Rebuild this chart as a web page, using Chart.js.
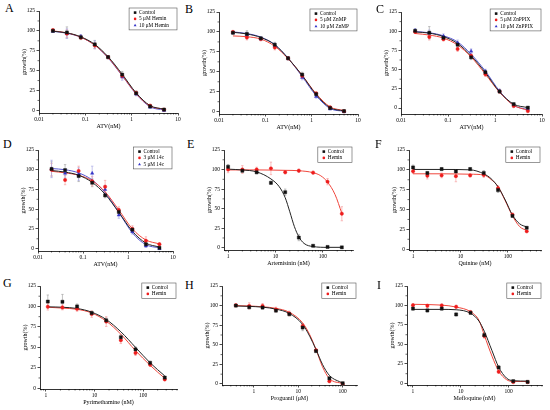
<!DOCTYPE html>
<html>
<head>
<meta charset="utf-8">
<script src="https://cdn.jsdelivr.net/npm/chart.js@4.4.1/dist/chart.umd.min.js"></script>
<style>
  body { margin: 0; background: #fff; width: 550px; height: 410px; overflow: hidden; position: relative; font-family: "Liberation Serif", serif; }
  canvas { position: absolute; }
  .lbl { position: absolute; font-size: 12px; line-height: 12px; color: #000; }
</style>
</head>
<body>
<script>
// ---- data ----
const yTicks = [0, 25, 50, 75, 100, 125];
const atvTicks = [0.01, 0.1, 1, 10];
const drugTicks = [1, 10, 100];

// A-D: atovaquone dose series
const doseATV = [0.02, 0.04, 0.08, 0.16, 0.31, 0.625, 1.25, 2.5, 5];

const ctrlA   = [100, 98, 92, 83, 67, 45, 21.5, 5, 1];
const hem5A   = [101, 96.5, 91.5, 81.5, 67, 43.5, 22, 6, 1];
const hem10A  = [99.5, 96.5, 93, 82.5, 67, 42, 20.5, 4, 0];
const errCtrlA  = [2, 7, 3, 5, 2, 4, 3, 2, 1];
const errHem5A  = [2, 5, 2, 4, 2, 3, 2, 1, 1];
const errHem10A = [1, 6, 2, 5, 2, 4, 2, 1, 1];
const fitCtrlA  = [99.5, 97.5, 92.5, 83, 67.5, 45.5, 22, 6, 1.5];
const fitHem5A  = [100, 97.5, 92, 82, 66.5, 44, 21, 5.5, 1.5];
const fitHem10A = [99.5, 97, 92, 82, 66, 43.5, 20.5, 4.5, 0.5];

const ctrlB   = [99, 97.5, 92, 84, 67, 46.5, 22, 4.6, 0.8];
const znmp5B  = [100, 93, 91, 80.5, 67, 45, 23, 5.5, 0.5];
const znmp10B = [99, 96.5, 91.5, 83, 67, 43, 19, 3.4, 0];
const errCtrlB   = [2, 4, 2, 3, 2, 3, 2, 1, 1];
const errZnmp5B  = [1, 3, 2, 3, 2, 3, 2, 1, 1];
const errZnmp10B = [1, 3, 2, 3, 2, 3, 2, 1, 1];
const fitCtrlB   = [99.5, 97.5, 93, 84, 67, 45.5, 21.5, 5, 1];
const fitZnmp5B  = [95, 94, 91, 82, 66.5, 45.5, 22.5, 6, 1.5];
const fitZnmp10B = [100, 98, 93.5, 84, 67, 44, 20, 4, 0.5];

const ctrlC    = [100.5, 98, 91.5, 82.5, 66, 46.5, 21.5, 5, 0.5];
const zppix5C  = [99, 92.5, 89.5, 76.8, 68, 44, 21.5, 2.5, -4];
const zppix10C = [101, 97.5, 93.5, 84.5, 74, 47.5, 22.5, 4, -1.5];
const errCtrlC    = [2, 8, 3, 4, 3, 3, 2, 2, 1];
const errZppix5C  = [2, 4, 2, 3, 3, 3, 2, 1, 1];
const errZppix10C = [2, 4, 3, 4, 3, 3, 2, 1, 1];
const fitCtrlC    = [99, 97.5, 93, 84, 68, 46, 21, 5, 0.5];
const fitZppix5C  = [97, 95, 91, 82, 66.5, 44, 20.5, 3.5, -3];
const fitZppix10C = [99.5, 98, 94, 86, 70, 48, 22, 3.5, -2];

const ctrlD  = [101, 99.5, 92, 83.5, 67.5, 46.5, 24, 5.5, 1];
const c14_3D = [100, 87, 98.5, 85.5, 78.5, 49, 25, 10, 5.5];
const c14_5D = [101, 95.5, 94.5, 95.5, 75, 42.5, 21.5, 3.4, 0];
const errCtrlD  = [9, 7, 7, 5, 3, 4, 3, 2, 1];
const errC14_3D = [8, 6, 6, 6, 8, 4, 4, 5, 2];
const errC14_5D = [11, 6, 8, 9, 5, 4, 3, 2, 1];
const fitCtrlD  = [99, 97, 93, 84, 69, 46, 22, 7, 2];
const fitC14_3D = [98, 96, 93, 86, 72, 49, 25, 11, 6];
const fitC14_5D = [101.5, 100, 96, 87, 71, 46, 20, 5, 1];

// E: artemisinin
const doseE  = [1, 2, 4, 8, 16, 31, 62, 125, 250];
const ctrlE  = [103.5, 98.5, 96.5, 83, 71, 13, 2.5, 1, 0.5];
const hemE   = [100, 100, 100, 101.5, 96.5, 98.5, 96, 84.5, 43.5];
const errCtrlE = [3, 2, 2, 2, 4, 4, 1, 1, 1];
const errHemE  = [4, 5, 3, 8, 2, 2, 2, 4, 9];
const fitXCtrlE = [1, 2, 4, 8, 12, 16, 20, 25, 31, 40, 62, 125, 250];
const fitCtrlE  = [100.5, 99.5, 97, 88, 78, 64, 46, 27, 14, 5.5, 1.5, 0.5, 0.5];
const fitXHemE  = [1, 4, 16, 31, 62, 90, 125, 180, 250];
const fitHemE   = [99.5, 99.5, 99, 98.5, 96, 92, 84, 68, 44];

// F: quinine
const doseF  = [1, 2, 4, 8, 16, 31, 62, 125, 250];
const ctrlF  = [103, 96, 101, 98, 101, 96, 74.5, 42, 27];
const hemF   = [98.3, 92.5, 93, 92, 93, 93.5, 77, 43.5, 22.5];
const errCtrlF = [3, 2, 2, 2, 2, 3, 3, 2, 1];
const errHemF  = [3, 4, 3, 7, 2, 3, 3, 2, 1];
const fitXF    = [1, 4, 16, 31, 44, 62, 88, 125, 177, 250];
const fitCtrlF = [100.5, 100.5, 100, 95, 89, 78.5, 62, 43, 32, 28];
const fitHemF  = [95, 95, 94.5, 93.5, 88, 79, 61, 42, 28.5, 23.5];

// G: pyrimethamine
const doseG  = [1.1, 2.2, 4.4, 8.8, 17.5, 35, 70, 140, 280];
const ctrlG  = [106, 105.7, 100, 92, 83, 62.3, 47.5, 31, 13];
const hemG   = [99.6, 98.8, 97, 90.6, 81.5, 58.6, 43, 28.7, 10.7];
const errCtrlG = [8, 9, 3, 2, 3, 3, 3, 2, 1];
const errHemG  = [4, 3, 3, 4, 6, 4, 3, 2, 1];
const fitCtrlG = [99.5, 99, 97.5, 93, 84, 69, 50, 31, 15];
const fitHemG  = [99, 98, 96.5, 92, 82, 66, 46, 28, 12];

// H: proguanil
const doseH  = [0.39, 0.78, 1.56, 3.125, 6.25, 12.5, 25, 50, 100];
const ctrlH  = [100, 97.9, 97.5, 93.6, 89, 72, 42, 7.2, 1];
const hemH   = [100.4, 99.6, 99.6, 95, 90, 74, 43, 3.4, 0];
const errCtrlH = [1, 2, 2, 2, 2, 4, 2, 2, 1];
const errHemH  = [2, 4, 3, 3, 3, 3, 2, 1, 1];
const fitXH    = [0.39, 0.78, 1.56, 3.125, 6.25, 12.5, 18, 25, 35, 50, 100];
const fitCtrlH = [99.5, 99, 98, 95.5, 90, 76, 61, 44, 25, 11, 1];
const fitHemH  = [100, 99.5, 98.5, 96.5, 91.5, 78, 63, 44, 22, 7, 0.5];

// I: mefloquine
const doseI  = [1, 2, 4, 8, 16, 31, 62, 125, 250];
const ctrlI  = [96, 93.6, 96, 88.5, 90.6, 62, 20.5, 3, 2];
const hemI   = [100.4, 99.6, 100, 98.3, 91.5, 61, 15, 1.7, 1.7];
const errCtrlI = [2, 2, 2, 2, 2, 3, 2, 1, 1];
const errHemI  = [2, 2, 2, 2, 2, 3, 2, 1, 1];
const fitXI    = [1, 4, 8, 16, 24, 31, 45, 62, 90, 125, 250];
const fitCtrlI = [95, 95, 94.5, 90, 80, 67, 42, 21, 7, 3.5, 3];
const fitHemI  = [101.5, 100.5, 98, 92, 81, 62, 35, 16, 5, 2.5, 2.5];

// ---- styles / layout ----
const FONT = '"Liberation Serif", "Times New Roman", serif';
const YW = 18, XH = 17, PAD = 6;
const STY = [
  { shape: 'rect',     r: 2.2, color: '#111111', line: '#222222', err: '#a8a8a8' },
  { shape: 'circle',   r: 1.7, color: '#ee1c1c', line: '#f0463c', err: '#f6a4a4' },
  { shape: 'triangle', r: 2.0, color: '#3434c8', line: '#5656d2', err: '#aaaae6' }
];

const PANELS = [
  { id: 'A', lbl: [5, 1.5], area: [39.3, 11, 178.3, 113.3], x: [0.01, 10], yMin: -3.3, xTicks: atvTicks, xTitle: 'ATV(nM)',
    series: [
      { label: 'Control',      k: 0, x: doseATV, y: ctrlA,  err: errCtrlA,  fx: doseATV, fy: fitCtrlA },
      { label: '5 μM Hemin',   k: 1, x: doseATV, y: hem5A,  err: errHem5A,  fx: doseATV, fy: fitHem5A },
      { label: '10 μM Hemin',  k: 2, x: doseATV, y: hem10A, err: errHem10A, fx: doseATV, fy: fitHem10A }
    ] },
  { id: 'B', lbl: [185, 2.5], area: [219.3, 11.7, 358.3, 113.3], x: [0.01, 10], yMin: -2.9, xTicks: atvTicks, xTitle: 'ATV(nM)',
    series: [
      { label: 'Control',     k: 0, x: doseATV, y: ctrlB,   err: errCtrlB,   fx: doseATV, fy: fitCtrlB },
      { label: '5 μM ZnMP',   k: 1, x: doseATV, y: znmp5B,  err: errZnmp5B,  fx: doseATV, fy: fitZnmp5B },
      { label: '10 μM ZnMP',  k: 2, x: doseATV, y: znmp10B, err: errZnmp10B, fx: doseATV, fy: fitZnmp10B }
    ] },
  { id: 'C', lbl: [376, 2.5], area: [400.7, 11.7, 541.7, 113.3], x: [0.01, 10], yMin: -7.8, xTicks: atvTicks, xTitle: 'ATV(nM)',
    series: [
      { label: 'Control',       k: 0, x: doseATV, y: ctrlC,    err: errCtrlC,    fx: doseATV, fy: fitCtrlC },
      { label: '5 μM ZnPPIX',   k: 1, x: doseATV, y: zppix5C,  err: errZppix5C,  fx: doseATV, fy: fitZppix5C },
      { label: '10 μM ZnPPIX',  k: 2, x: doseATV, y: zppix10C, err: errZppix10C, fx: doseATV, fy: fitZppix10C }
    ] },
  { id: 'D', lbl: [3, 137.5], area: [38.3, 150, 173.3, 250.7], x: [0.01, 10], yMin: -3, xTicks: atvTicks, xTitle: 'ATV(nM)',
    series: [
      { label: 'Control',   k: 0, x: doseATV, y: ctrlD,  err: errCtrlD,  fx: doseATV, fy: fitCtrlD },
      { label: '3 μM 14c',  k: 1, x: doseATV, y: c14_3D, err: errC14_3D, fx: doseATV, fy: fitC14_3D },
      { label: '5 μM 14c',  k: 2, x: doseATV, y: c14_5D, err: errC14_5D, fx: doseATV, fy: fitC14_5D }
    ] },
  { id: 'E', lbl: [187, 137.5], area: [224.3, 150, 353.3, 250], x: [0.82, 430], yMin: -2.9, xTicks: drugTicks, xTitle: 'Artemisinin (nM)',
    series: [
      { label: 'Control', k: 0, x: doseE, y: ctrlE, err: errCtrlE, fx: fitXCtrlE, fy: fitCtrlE },
      { label: 'Hemin',   k: 1, x: doseE, y: hemE,  err: errHemE,  fx: fitXHemE,  fy: fitHemE }
    ] },
  { id: 'F', lbl: [375, 138], area: [409.3, 150, 541.7, 249.5], x: [0.82, 500], yMin: -1, xTicks: drugTicks, xTitle: 'Quinine (nM)',
    series: [
      { label: 'Control', k: 0, x: doseF, y: ctrlF, err: errCtrlF, fx: fitXF, fy: fitCtrlF },
      { label: 'Hemin',   k: 1, x: doseF, y: hemF,  err: errHemF,  fx: fitXF, fy: fitHemF }
    ] },
  { id: 'G', lbl: [3, 276.5], area: [40, 285.7, 176.7, 388.3], x: [0.76, 500], yMin: -1, xTicks: drugTicks, xTitle: 'Pyrimethamine (nM)',
    series: [
      { label: 'Control', k: 0, x: doseG, y: ctrlG, err: errCtrlG, fx: doseG, fy: fitCtrlG },
      { label: 'Hemin',   k: 1, x: doseG, y: hemG,  err: errHemG,  fx: doseG, fy: fitHemG }
    ] },
  { id: 'H', lbl: [185, 279], area: [221.7, 285.7, 356.7, 385], x: [0.19, 210], yMin: -1.3, xTicks: drugTicks, xTitle: 'Proguanil (μM)',
    series: [
      { label: 'Control', k: 0, x: doseH, y: ctrlH, err: errCtrlH, fx: fitXH, fy: fitCtrlH },
      { label: 'Hemin',   k: 1, x: doseH, y: hemH,  err: errHemH,  fx: fitXH, fy: fitHemH }
    ] },
  { id: 'I', lbl: [377, 279], area: [406.7, 286, 541.7, 385], x: [0.75, 500], yMin: -2, xTicks: drugTicks, xTitle: 'Mefloquine (nM)',
    series: [
      { label: 'Control', k: 0, x: doseI, y: ctrlI, err: errCtrlI, fx: fitXI, fy: fitCtrlI },
      { label: 'Hemin',   k: 1, x: doseI, y: hemI,  err: errHemI,  fx: fitXI, fy: fitHemI }
    ] }
];

// ---- plugins ----
function drawMarker(ctx, st, x, y, r) {
  ctx.fillStyle = st.color;
  ctx.beginPath();
  if (st.shape === 'rect') ctx.rect(x - r, y - r, 2 * r, 2 * r);
  else if (st.shape === 'circle') ctx.arc(x, y, r, 0, Math.PI * 2);
  else { ctx.moveTo(x, y - r * 1.2); ctx.lineTo(x + r * 1.1, y + r * 0.8); ctx.lineTo(x - r * 1.1, y + r * 0.8); ctx.closePath(); }
  ctx.fill();
}

const minorTicks = {
  id: 'minorTicks',
  afterDraw(chart) {
    const xs = chart.scales.x, ys = chart.scales.y, ctx = chart.ctx;
    ctx.save();
    ctx.strokeStyle = '#000';
    ctx.lineWidth = 0.6;
    ctx.beginPath();
    for (let e = Math.floor(Math.log10(xs.min)); e <= Math.ceil(Math.log10(xs.max)); e++) {
      for (let k = 2; k < 10; k++) {
        const v = k * Math.pow(10, e);
        if (v < xs.min || v > xs.max) continue;
        const px = xs.getPixelForValue(v);
        ctx.moveTo(px, xs.top);
        ctx.lineTo(px, xs.top + 1.5);
      }
    }
    yTicks.slice(0, -1).forEach(v => {
      const py = ys.getPixelForValue(v + 12.5);
      ctx.moveTo(ys.right, py);
      ctx.lineTo(ys.right - 1.5, py);
    });
    ctx.stroke();
    ctx.restore();
  }
};

const errorBars = {
  id: 'errorBars',
  beforeDatasetsDraw(chart) {
    const xs = chart.scales.x, ys = chart.scales.y, ctx = chart.ctx;
    ctx.save();
    ctx.lineWidth = 0.7;
    chart.data.datasets.forEach(d => {
      if (!d.errors) return;
      ctx.strokeStyle = STY[d.kind].err;
      ctx.beginPath();
      d.data.forEach((p, i) => {
        const e = d.errors[i];
        if (!e) return;
        const px = xs.getPixelForValue(p.x);
        const y1 = ys.getPixelForValue(p.y + e), y2 = ys.getPixelForValue(p.y - e);
        ctx.moveTo(px, y1); ctx.lineTo(px, y2);
        ctx.moveTo(px - 1.2, y1); ctx.lineTo(px + 1.2, y1);
        ctx.moveTo(px - 1.2, y2); ctx.lineTo(px + 1.2, y2);
      });
      ctx.stroke();
    });
    ctx.restore();
  }
};

const boxLegend = {
  id: 'boxLegend',
  afterDraw(chart) {
    const items = chart.data.datasets.filter(d => d.inLegend);
    const ctx = chart.ctx, a = chart.chartArea;
    ctx.save();
    ctx.font = '5.3px ' + FONT;
    const tw = Math.max(...items.map(d => ctx.measureText(d.label).width));
    const w = tw + 18, h = items.length * 6.3 + 3;
    const x0 = a.right - 1 - w, y0 = a.top - 3;
    ctx.fillStyle = '#fff';
    ctx.fillRect(x0, y0, w, h);
    ctx.strokeStyle = '#555';
    ctx.lineWidth = 0.6;
    ctx.strokeRect(x0, y0, w, h);
    items.forEach((d, i) => {
      const cy = y0 + 4.6 + i * 6.3;
      drawMarker(ctx, STY[d.kind], x0 + 6, cy, 1.3);
      ctx.fillStyle = '#000';
      ctx.textBaseline = 'middle';
      ctx.fillText(d.label, x0 + 10, cy);
    });
    ctx.restore();
  }
};

// ---- build panels ----
function makePanel(p) {
  const [l, t, r, b] = p.area;
  const W = Math.round(r - l) + YW + PAD, H = Math.round(b - t) + PAD + XH;
  const cv = document.createElement('canvas');
  cv.width = W; cv.height = H;
  cv.style.left = (Math.round(l) - YW) + 'px';
  cv.style.top = (Math.round(t) - PAD) + 'px';
  cv.style.width = W + 'px'; cv.style.height = H + 'px';
  document.body.appendChild(cv);

  const lab = document.createElement('div');
  lab.className = 'lbl';
  lab.style.left = p.lbl[0] + 'px';
  lab.style.top = p.lbl[1] + 'px';
  lab.textContent = p.id;
  document.body.appendChild(lab);

  const datasets = [];
  p.series.forEach(s => {
    const st = STY[s.k];
    datasets.push({
      type: 'scatter', label: s.label, inLegend: true, kind: s.k, errors: s.err,
      data: s.x.map((v, i) => ({ x: v, y: s.y[i] })),
      pointStyle: st.shape, pointRadius: st.r, backgroundColor: st.color, borderColor: st.color,
      borderWidth: 0.4, order: 0
    });
  });
  p.series.forEach(s => {
    datasets.push({
      type: 'line', label: s.label + ' fit', kind: s.k,
      data: s.fx.map((v, i) => ({ x: v, y: s.fy[i] })),
      borderColor: STY[s.k].line, borderWidth: 1, pointRadius: 0,
      cubicInterpolationMode: 'monotone', fill: false, showLine: true, order: 1
    });
  });

  const tickFont = { family: FONT, size: 5.5 };
  new Chart(cv, {
    type: 'scatter',
    data: { datasets },
    options: {
      responsive: false,
      animation: false,
      events: [],
      layout: { padding: { left: 0, top: PAD, right: PAD, bottom: 0 } },
      plugins: { legend: { display: false }, tooltip: { enabled: false } },
      scales: {
        x: {
          type: 'logarithmic', min: p.x[0], max: p.x[1],
          afterBuildTicks: s => { s.ticks = p.xTicks.map(v => ({ value: v })); },
          afterFit: s => { s.height = XH; },
          ticks: { callback: v => String(v), font: tickFont, color: '#000', padding: 1, autoSkip: false, maxRotation: 0 },
          grid: { drawOnChartArea: false, drawTicks: true, tickLength: 2.5, color: '#000', lineWidth: 0.7 },
          border: { display: true, color: '#000', width: 0.8 },
          title: { display: true, text: p.xTitle, font: { family: FONT, size: 6 }, color: '#000', padding: 0 }
        },
        y: {
          type: 'linear', min: p.yMin, max: 125,
          afterBuildTicks: s => { s.ticks = yTicks.map(v => ({ value: v })); },
          afterFit: s => { s.width = YW; },
          ticks: { font: tickFont, color: '#000', padding: 1.5, autoSkip: false },
          grid: { drawOnChartArea: false, drawTicks: true, tickLength: 2.5, color: '#000', lineWidth: 0.7 },
          border: { display: true, color: '#000', width: 0.8 },
          title: { display: true, text: 'growth(%)', font: { family: FONT, size: 6 }, color: '#000', padding: 0 }
        }
      }
    },
    plugins: [errorBars, minorTicks, boxLegend]
  });
}

PANELS.forEach(makePanel);
</script>
</body>
</html>
